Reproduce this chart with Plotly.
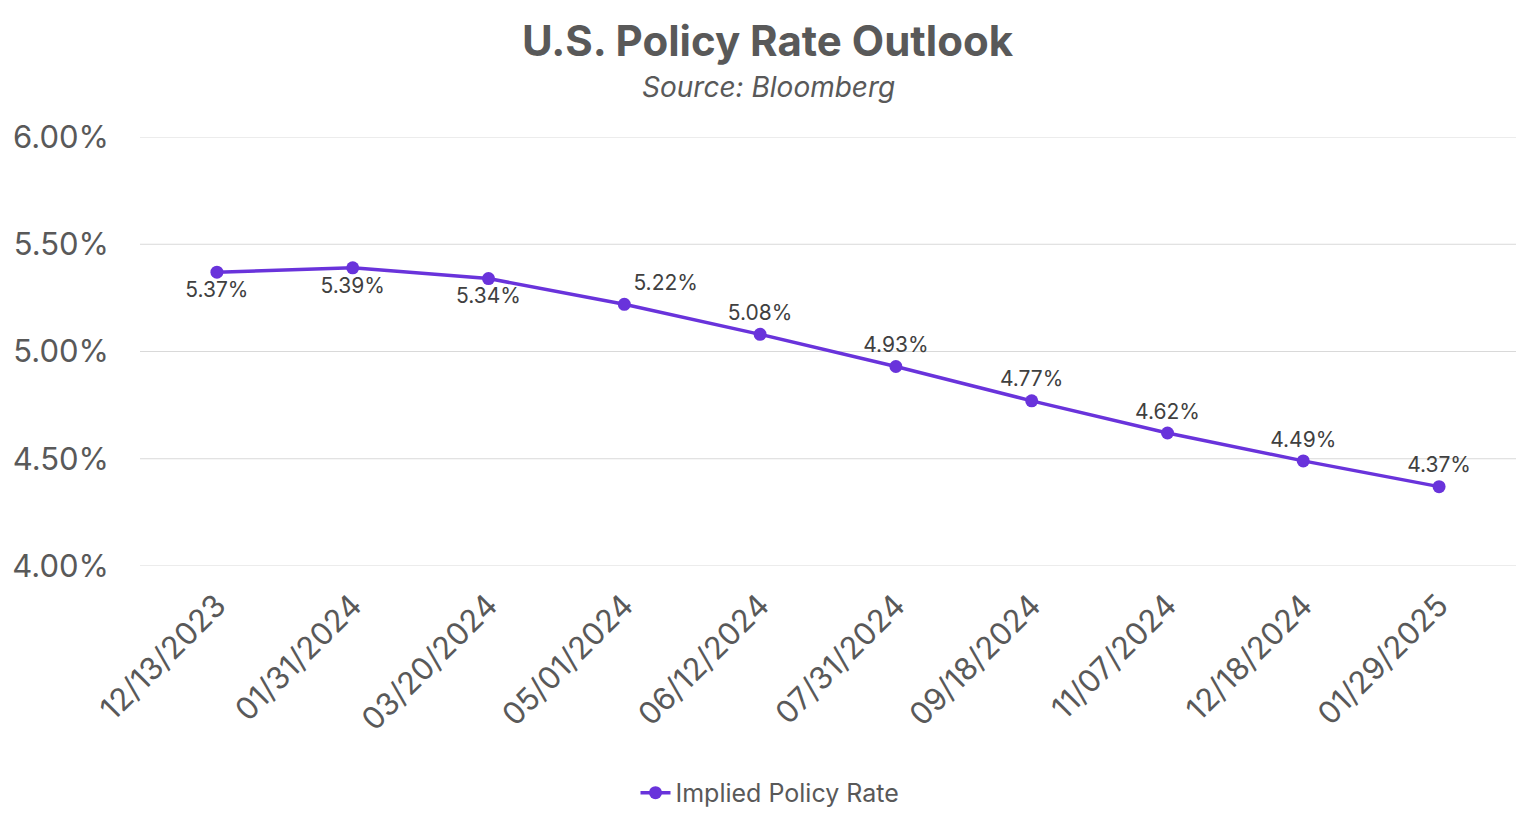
import plotly.graph_objects as go

dates = ["12/13/2023", "01/31/2024", "03/20/2024", "05/01/2024", "06/12/2024",
         "07/31/2024", "09/18/2024", "11/07/2024", "12/18/2024", "01/29/2025"]
rates = [5.37, 5.39, 5.34, 5.22, 5.08, 4.93, 4.77, 4.62, 4.49, 4.37]
label_pos = ["bottom center", "bottom center", "bottom center", "top right",
             "top center", "top center", "top center", "top center", "top center", "top center"]
y_ticks = [4.0, 4.5, 5.0, 5.5, 6.0]

FONT = "Inter, Lato, sans-serif"
LINE = "#6933db"
GRID = "#d9d9d9"

L, R, T, B = 140, 20, 137, 260
W, H = 1536, 828
plot_w = W - L - R
plot_h = H - T - B

def px_x(x):
    return (x - L) / plot_w

def px_y(y):
    return (H - B - y) / plot_h

fig = go.Figure()
fig.add_trace(go.Scatter(
    x=dates, y=rates, mode="lines+markers+text",
    name="Implied Policy Rate",
    line=dict(color=LINE, width=3.5),
    marker=dict(color=LINE, size=13),
    text=[f"{v:.2f}%" for v in rates],
    textposition=label_pos,
    textfont=dict(family=FONT, size=21, color="#404040"),
    cliponaxis=False,
))

for v in y_ticks:
    fig.add_shape(type="line", xref="paper", yref="y", x0=0, x1=1, y0=v, y1=v,
                  line=dict(color=GRID, width=1), layer="below")

fig.update_layout(
    width=W, height=H,
    margin=dict(l=L, r=R, t=T, b=B),
    paper_bgcolor="white", plot_bgcolor="white",
    font=dict(family=FONT, color="#595959"),
    showlegend=True,
    legend=dict(orientation="h", x=px_x(770), xanchor="center", y=px_y(796), yanchor="middle",
                font=dict(size=25, color="#595959")),
    annotations=[
        dict(text="<b>U.S. Policy Rate Outlook</b>", x=px_x(768), y=px_y(40),
             xref="paper", yref="paper", xanchor="center", yanchor="middle",
             showarrow=False, font=dict(size=42, color="#595959", family=FONT)),
        dict(text="<i>Source: Bloomberg</i>", x=px_x(768), y=px_y(87),
             xref="paper", yref="paper", xanchor="center", yanchor="middle",
             showarrow=False, font=dict(size=28, color="#595959", family=FONT)),
    ],
)

fig.update_xaxes(
    type="category", tickangle=-45, showgrid=False, showline=False, zeroline=False,
    ticks="", ticklabelstandoff=14, tickfont=dict(size=31, color="#595959", family=FONT),
)
fig.update_yaxes(
    range=[4.0, 6.0], tickvals=y_ticks, ticktext=[f"{v:.2f}%" for v in y_ticks],
    showgrid=False, zeroline=False, showline=False,
    ticks="", ticklabelstandoff=30, tickfont=dict(size=31, color="#595959", family=FONT),
)

fig.write_html("out.html")
